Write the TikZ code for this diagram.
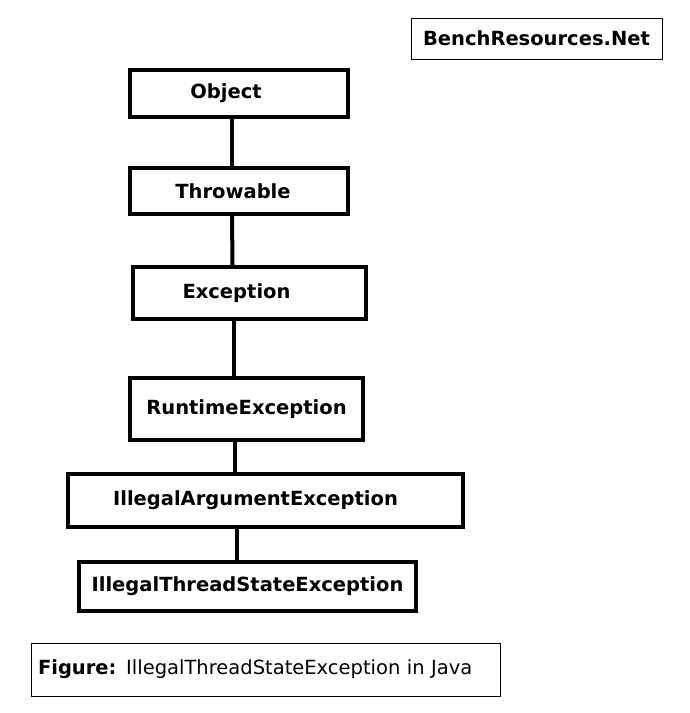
\documentclass[tikz,border=0pt]{standalone}
\usepackage{fontspec}
\setmainfont{DejaVu Sans}
\usetikzlibrary{positioning}
\tikzset{
  cls/.style={draw=black,line width=4pt,font=\fontsize{19.5}{22}\selectfont\bfseries,inner sep=0pt},
  note/.style={draw=black,line width=0.8pt,inner sep=0pt,font=\fontsize{19.5}{22}\selectfont},
  link/.style={line width=4pt}
}
\begin{document}
\begin{tikzpicture}[x=1pt,y=-1pt]
\useasboundingbox (0,0) rectangle (690,713);
% class boxes
\node[cls,minimum width=218,minimum height=47] (obj) at (239,93.5) {\hspace*{-26pt}Object};
\node[cls,minimum width=218,minimum height=46] (thr) at (239,191) {\hspace*{-12pt}Throwable};
\node[cls,minimum width=233,minimum height=52] (exc) at (249.5,293) {\hspace*{-26pt}Exception};
\node[cls,minimum width=233,minimum height=62] (rte) at (246.5,409) {RuntimeException};
\node[cls,minimum width=395,minimum height=53] (iae) at (265.5,500.5) {\hspace*{-20pt}IllegalArgumentException};
\node[cls,minimum width=337,minimum height=49] (itse) at (247.5,586.5) {IllegalThreadStateException};
% notes
\node[note,minimum width=251,minimum height=41,font=\fontsize{19.5}{22}\selectfont\bfseries] (site) at (536.5,38.5) {BenchResources.Net};
\node[note,minimum width=469,minimum height=53,text width=455,align=left,inner xsep=7pt] (cap) at (265.5,669.5) {\fontsize{19.5}{22}\selectfont\textbf{Figure:} IllegalThreadStateException in Java};
% links
\draw[link] ([xshift=-7pt]obj.south) -- ([xshift=-7pt]thr.north);
\draw[link] ([xshift=-7pt]thr.south) -- ([xshift=-17pt]exc.north);
\draw[link] ([xshift=-16pt]exc.south) -- ([xshift=-13pt]rte.north);
\draw[link] ([xshift=-12pt]rte.south) -- ([xshift=-31pt]iae.north);
\draw[link] ([xshift=-29pt]iae.south) -- ([xshift=-11pt]itse.north);
\end{tikzpicture}
\end{document}
